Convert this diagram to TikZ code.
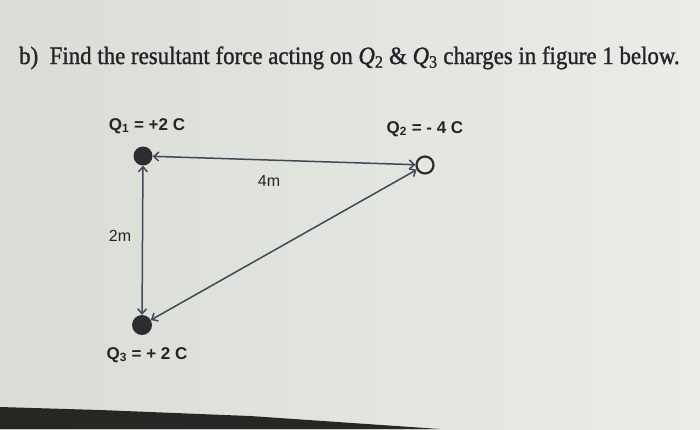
\documentclass[tikz,border=0pt]{standalone}
\usepackage{fontspec}
\setmainfont{Liberation Serif}[FakeBold=1.2]
\newfontfamily\lab{Liberation Sans}
\usetikzlibrary{arrows.meta}
\definecolor{bgL}{RGB}{218,221,214}
\definecolor{bgR}{RGB}{234,236,231}
\definecolor{ink}{RGB}{35,35,40}
\definecolor{wire}{RGB}{65,71,88}
\definecolor{dot}{RGB}{45,45,48}
\definecolor{band}{RGB}{38,38,36}
\tikzset{
  charge/.style={circle, inner sep=0pt, minimum size=19pt},
  wirearrow/.style={draw=wire, line width=1.5pt, {Straight Barb[length=5pt,width=9pt]}-{Straight Barb[length=5pt,width=9pt]}},
  qlabel/.style={font=\lab\fontsize{17}{19}\selectfont\bfseries, text=ink, inner sep=0pt},
  dlabel/.style={font=\lab\fontsize{16}{18}\selectfont, text=ink, inner sep=0pt},
}
\begin{document}
\begin{tikzpicture}[x=1pt,y=-1pt]
\useasboundingbox (0,0) rectangle (700,429);
\shade[left color=bgL, right color=bgR] (0,0) rectangle (700,429);
\fill[band] (0,407) -- (100,410) -- (250,416) -- (440,429) -- (0,429) -- cycle;
\node[anchor=base west, inner sep=0pt, text=ink, font=\fontsize{25}{29}\selectfont] (title) at (19,64)
  {\scalebox{0.915}[1]{b)\enspace Find the resultant force acting on \textit{Q}\textsubscript{2} \& \textit{Q}\textsubscript{3} charges in figure 1 below.}};
\node[charge, fill=dot] (q1) at (143,156) {};
\node[charge, draw=dot, line width=2.2pt, minimum size=17pt] (q2) at (425,165) {};
\node[charge, fill=dot, minimum size=20pt] (q3) at (142,325) {};
\draw[wirearrow] (q1) -- (q2);
\draw[wirearrow] (q1) -- (q3);
\draw[wirearrow] (q2) -- (q3);
\node[qlabel] (l1) at (147,126) {Q\textsubscript{1} = +2 C};
\node[qlabel] (l2) at (425,129) {Q\textsubscript{2} = - 4 C};
\node[qlabel] (l3) at (147,355) {Q\textsubscript{3} = + 2 C};
\node[dlabel] (d4) at (269,181) {4m};
\node[dlabel] (d2) at (120,236) {2m};
\end{tikzpicture}
\end{document}
